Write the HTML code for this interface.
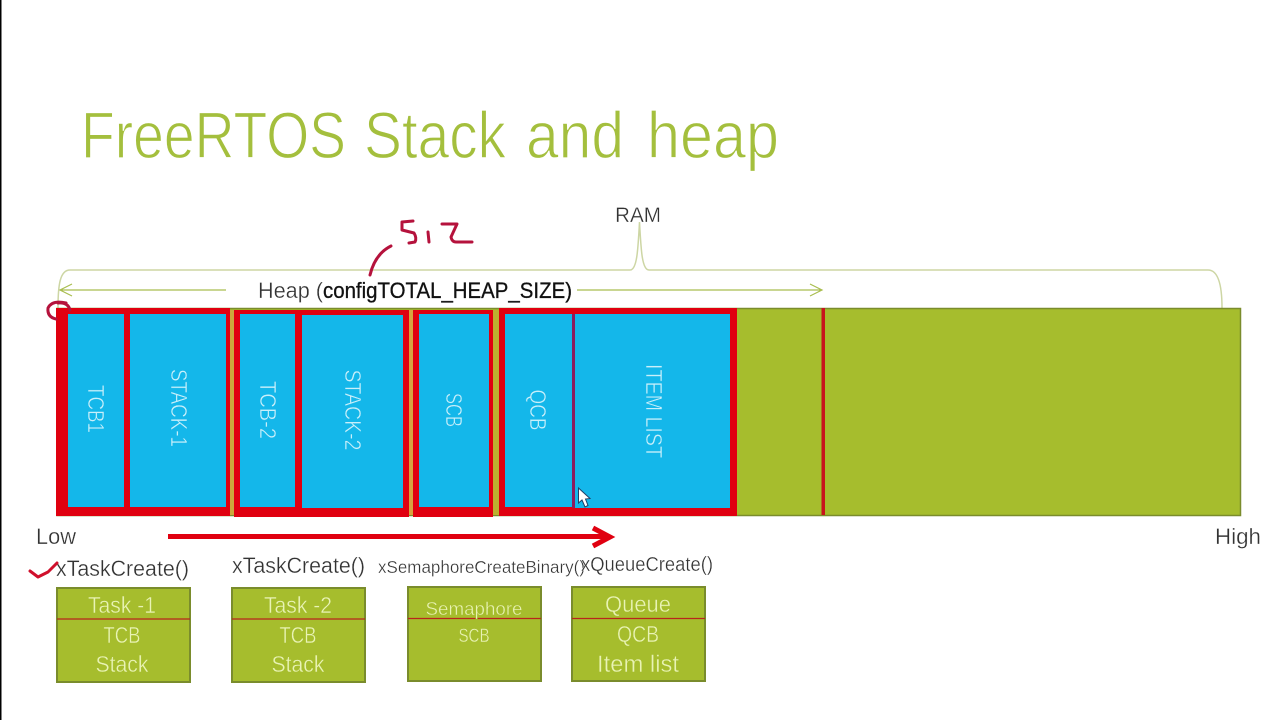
<!DOCTYPE html>
<html>
<head>
<meta charset="utf-8">
<style>
html,body{margin:0;padding:0;background:#fff;width:1280px;height:720px;overflow:hidden}
svg{display:block}
text{font-family:"Liberation Sans",sans-serif}
</style>
</head>
<body>
<svg width="1280" height="720" viewBox="0 0 1280 720" xmlns="http://www.w3.org/2000/svg">
<rect width="1280" height="720" fill="#fff"/>
<rect x="0" y="0" width="1.500" height="720" fill="#000"/>

<g font-size="66" fill="#a4bf3d" stroke="#fff" stroke-width="1.200" lengthAdjust="spacingAndGlyphs">
<text x="81" y="158" textLength="265" lengthAdjust="spacingAndGlyphs">FreeRTOS</text>
<text x="364" y="158" textLength="142" lengthAdjust="spacingAndGlyphs">Stack</text>
<text x="526" y="158" textLength="98" lengthAdjust="spacingAndGlyphs">and</text>
<text x="647" y="158" textLength="132" lengthAdjust="spacingAndGlyphs">heap</text>
</g>

<!-- brace -->
<path d="M58 308 C58 285 60 270 70 270 L630 270 C637 270 638 250 639.500 222 C641 250 642 270 649 270 L1208 270 C1218 270 1222 285 1222 308" fill="none" stroke="#cdd6a4" stroke-width="1.500"/>
<text x="615" y="222" font-size="21" fill="#333" stroke="#fff" stroke-width=".3" textLength="46" lengthAdjust="spacingAndGlyphs">RAM</text>

<!-- heap arrow -->
<path d="M226 290 L60 290 M72 284 L60 290 L72 296" fill="none" stroke="#a9bd4f" stroke-width="1.200"/>
<path d="M577 290 L822 290 M810 284 L822 290 L810 296" fill="none" stroke="#a9bd4f" stroke-width="1.200"/>
<text x="258" y="298" font-size="22" fill="#333" stroke="#fff" stroke-width=".3" textLength="65" lengthAdjust="spacingAndGlyphs">Heap (</text>
<text x="323" y="298" font-size="22" fill="#111" textLength="249" lengthAdjust="spacingAndGlyphs" stroke="#111" stroke-width=".3">configTOTAL_HEAP_SIZE)</text>

<!-- RAM bar -->
<rect x="57" y="308.500" width="1183.500" height="207" fill="#a6bd2d" stroke="#7a8c2c" stroke-width="1.500"/>
<rect x="230" y="310" width="4" height="205" fill="#cda83c"/>
<rect x="409" y="310" width="4" height="205" fill="#d9a23e"/>
<rect x="493" y="310" width="6" height="205" fill="#bdb030"/>

<!-- red blocks -->
<rect x="56" y="308" width="174" height="208" fill="#e00010"/>
<rect x="234" y="310" width="175" height="207" fill="#e00010"/>
<rect x="413" y="310" width="80" height="207" fill="#e00010"/>
<rect x="499" y="308" width="238" height="208" fill="#e00010"/>
<rect x="821.500" y="308" width="3.500" height="207" fill="#c8141c"/>

<!-- blue blocks -->
<g fill="#14b7ea">
<rect x="68" y="314" width="56" height="193"/>
<rect x="130" y="314" width="96" height="193"/>
<rect x="240" y="314" width="55" height="193"/>
<rect x="302" y="315" width="101" height="193"/>
<rect x="419" y="314" width="70" height="193"/>
<rect x="505" y="314" width="67" height="193"/>
<rect x="575" y="314" width="155" height="194"/>
</g>
<rect x="572" y="314" width="3" height="194" fill="#8c1c5e"/>

<!-- vertical labels -->
<g font-size="23" fill="#c9effa" text-anchor="middle" dominant-baseline="central" stroke="#14b7ea" stroke-width=".5">
<text transform="translate(96 409) rotate(90)" textLength="48" lengthAdjust="spacingAndGlyphs">TCB1</text>
<text transform="translate(179 408) rotate(90)" textLength="78" lengthAdjust="spacingAndGlyphs">STACK-1</text>
<text transform="translate(268 410) rotate(90)" textLength="58" lengthAdjust="spacingAndGlyphs">TCB-2</text>
<text transform="translate(353 410) rotate(90)" textLength="81" lengthAdjust="spacingAndGlyphs">STACK-2</text>
<text transform="translate(454 410) rotate(90)" textLength="34" lengthAdjust="spacingAndGlyphs">SCB</text>
<text transform="translate(538 410) rotate(90)" textLength="41" lengthAdjust="spacingAndGlyphs">QCB</text>
<text transform="translate(654 411) rotate(90)" textLength="94" lengthAdjust="spacingAndGlyphs">ITEM LIST</text>
</g>

<!-- cursor -->
<path d="M578.500 488 L578.500 503 L582 500 L585 507 L588 505.500 L585.500 499 L590 498.500 Z" fill="#fff" stroke="#1f3f66" stroke-width="1"/>

<!-- Low/High and arrow -->
<text x="36" y="544" font-size="22" fill="#333" stroke="#fff" stroke-width=".3" textLength="40" lengthAdjust="spacingAndGlyphs">Low</text>
<text x="1215" y="544" font-size="22" fill="#333" stroke="#fff" stroke-width=".3" textLength="46" lengthAdjust="spacingAndGlyphs">High</text>
<path d="M168 536.500 L608 536.500" stroke="#e00010" stroke-width="5" fill="none"/>
<path d="M593 528 L610 537 L593 546" stroke="#e00010" stroke-width="5" fill="none" stroke-linejoin="miter"/>

<!-- function labels -->
<g fill="#333" stroke="#fff" stroke-width=".3">
<text x="56" y="576" font-size="22" textLength="133" lengthAdjust="spacingAndGlyphs">xTaskCreate()</text>
<text x="232" y="573" font-size="22" textLength="133" lengthAdjust="spacingAndGlyphs">xTaskCreate()</text>
<text x="378" y="573" font-size="17.500" textLength="207" lengthAdjust="spacingAndGlyphs">xSemaphoreCreateBinary()</text>
<text x="581" y="571" font-size="20" textLength="132" lengthAdjust="spacingAndGlyphs">xQueueCreate()</text>
</g>

<!-- boxes -->
<g fill="#a6bd2d" stroke="#7a8c2c" stroke-width="2">
<rect x="57" y="588" width="133" height="94"/>
<rect x="232" y="588" width="133" height="94"/>
<rect x="408" y="587" width="133" height="94"/>
<rect x="572" y="587" width="133" height="94"/>
</g>
<g stroke="#b8261c" stroke-width="1.200">
<path d="M57 619 H190"/><path d="M232 619 H365"/><path d="M408 618.500 H541"/><path d="M572 618.500 H705"/>
</g>
<g fill="#e9f3b5" font-size="23" text-anchor="middle" stroke="#a6bd2d" stroke-width=".4">
<text x="122" y="613" textLength="68" lengthAdjust="spacingAndGlyphs">Task -1</text>
<text x="122" y="643" textLength="37" lengthAdjust="spacingAndGlyphs">TCB</text>
<text x="122" y="672" textLength="53" lengthAdjust="spacingAndGlyphs">Stack</text>
<text x="298" y="613" textLength="68" lengthAdjust="spacingAndGlyphs">Task -2</text>
<text x="298" y="643" textLength="37" lengthAdjust="spacingAndGlyphs">TCB</text>
<text x="298" y="672" textLength="53" lengthAdjust="spacingAndGlyphs">Stack</text>
<text x="474" y="615" font-size="18" textLength="97" lengthAdjust="spacingAndGlyphs">Semaphore</text>
<text x="474" y="642" font-size="19" textLength="31" lengthAdjust="spacingAndGlyphs">SCB</text>
<text x="638" y="612" textLength="66" lengthAdjust="spacingAndGlyphs">Queue</text>
<text x="638" y="642" textLength="42" lengthAdjust="spacingAndGlyphs">QCB</text>
<text x="638" y="672" font-size="24" textLength="82" lengthAdjust="spacingAndGlyphs">Item list</text>
</g>

<!-- ink annotations -->
<g fill="none" stroke="#b5123c" stroke-width="3" stroke-linecap="round" stroke-linejoin="round">
<path d="M413 221 L402 222 L402 230 L414 233 Q417 238 415 242 L409 243"/>
<path d="M428 232 L429 242"/>
<path d="M442 224 L457 224 L451 237 Q452 242 456 242 L472 242"/>
<path d="M391 246 Q375 254 370 275"/>
<path d="M66 303 Q52 300 48 308 Q47 317 56 319"/>
<path d="M58 303 Q68 302 70 310"/>
<path d="M30 571 L38 577 L48 572 L57 563" stroke="#d0102c"/>
</g>
</svg>
</body>
</html>
